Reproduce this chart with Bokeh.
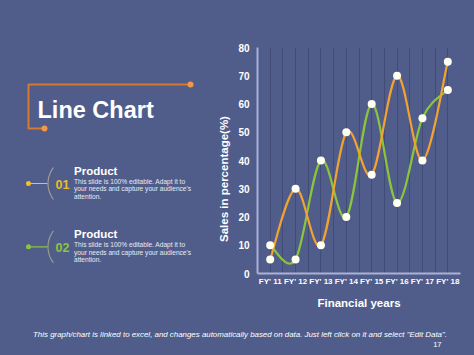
import numpy as np
from bokeh.plotting import figure
from bokeh.layouts import column, row
from bokeh.models import Range1d, FixedTicker, ColumnDataSource
from bokeh.core.properties import value
from bokeh.embed import file_html
from bokeh.resources import INLINE

# ---------------- data ----------------
years = ["FY' 11", "FY' 12", "FY' 13", "FY' 14", "FY' 15", "FY' 16", "FY' 17", "FY' 18"]
series_orange = [5, 30, 10, 50, 35, 70, 40, 75]
series_green = [10, 5, 40, 20, 60, 25, 55, 65]
y_ticks = [0, 10, 20, 30, 40, 50, 60, 70, 80]

# ---------------- styling ----------------
W, H = 474, 355
TOP_H = 318          # height of upper row
LW = 232             # width of left decorative panel
FL, FR, FT, FB = 257, 460, 47, 273   # chart frame edges in page px
BG = "#505D8B"
ORANGE = "#F2A232"
GREEN = "#8CC43C"
AXIS = "#A9B1D5"
GRID = "#404B78"
WHITE = "#FFFFFF"
FONT = "Liberation Sans"


def blank(w, h, xr, yr, top=0, bottom=0):
    f = figure(width=w, height=h, x_range=xr, y_range=yr, output_backend="svg", toolbar_location=None,
               x_axis_location=None, y_axis_location=None, min_border=0,
               min_border_top=top, min_border_bottom=bottom)
    f.background_fill_color = BG
    f.border_fill_color = BG
    f.outline_line_color = None
    f.grid.grid_line_color = None
    return f


# ---------------- chart ----------------
p = figure(width=W - LW, height=TOP_H, x_range=Range1d(0, len(years)),
           y_range=Range1d(y_ticks[0], y_ticks[-1]),
           output_backend="svg", toolbar_location=None,
           min_border_left=FL - LW, min_border_right=W - FR, min_border_top=FT, min_border_bottom=TOP_H - FB)
p.background_fill_color = BG
p.border_fill_color = BG
p.outline_line_color = None

xs = [i + 0.5 for i in range(len(years))]

p.xaxis.ticker = FixedTicker(ticks=xs)
p.xaxis.major_label_overrides = {x: lab for x, lab in zip(xs, years)}
p.yaxis.ticker = FixedTicker(ticks=y_ticks)
for ax in (p.xaxis[0], p.yaxis[0]):
    ax.major_tick_line_color = None
    ax.minor_tick_line_color = None
    ax.major_tick_out = 0
    ax.major_tick_in = 0
    ax.axis_line_color = AXIS
    ax.axis_line_width = 2
    ax.major_label_text_color = WHITE
    ax.major_label_text_font = FONT
    ax.major_label_text_font_style = "bold"
p.xaxis.major_label_text_font_size = "8px"
p.xaxis.major_label_standoff = 3
p.yaxis.major_label_text_font_size = "10px"
p.yaxis.major_label_standoff = 8
p.xaxis.axis_label = "Financial years"
p.xaxis.axis_label_text_font = FONT
p.xaxis.axis_label_text_font_size = "11.5px"
p.xaxis.axis_label_text_font_style = "bold"
p.xaxis.axis_label_text_color = WHITE
p.xaxis.axis_label_standoff = 8

p.xgrid.ticker = FixedTicker(ticks=[i * 0.5 for i in range(2 * len(years) + 1)])
p.xgrid.grid_line_color = GRID
p.xgrid.grid_line_width = 1
p.ygrid.grid_line_color = None


def bezier_source(vals):
    pts = list(zip(xs, vals))
    n = len(pts)
    d = dict(x0=[], y0=[], x1=[], y1=[], cx0=[], cy0=[], cx1=[], cy1=[])
    for i in range(n - 1):
        pm = pts[i - 1] if i > 0 else pts[i]
        p0 = pts[i]
        p1 = pts[i + 1]
        p2 = pts[i + 2] if i + 2 < n else pts[i + 1]
        d["x0"].append(p0[0]); d["y0"].append(p0[1])
        d["x1"].append(p1[0]); d["y1"].append(p1[1])
        d["cx0"].append(p0[0] + (p1[0] - pm[0]) / 6); d["cy0"].append(p0[1] + (p1[1] - pm[1]) / 6)
        d["cx1"].append(p1[0] - (p2[0] - p0[0]) / 6); d["cy1"].append(p1[1] - (p2[1] - p0[1]) / 6)
    return ColumnDataSource(d)


for vals, col in ((series_green, GREEN), (series_orange, ORANGE)):
    p.bezier(x0="x0", y0="y0", x1="x1", y1="y1", cx0="cx0", cy0="cy0", cx1="cx1", cy1="cy1",
             source=bezier_source(vals), line_color=col, line_width=2.2)
for vals in (series_green, series_orange):
    p.scatter(xs, vals, size=8, fill_color="#FFFFF2", line_color=None)

# ---------------- left decorative panel (page px coordinates, frame rows FT..FB) ----------------
L = blank(LW, TOP_H, Range1d(0, LW), Range1d(FB, FT), top=FT, bottom=TOP_H - FB)


def text(f, x, y, s, size, color=WHITE, style="normal", align="left", baseline="alphabetic", angle=0.0):
    # y is the wanted baseline in page px; compensate the renderer's baseline offset
    if baseline == "alphabetic":
        y = y - 0.32 * float(size.replace("px", ""))
    f.text(x=[x], y=[y], text=[s], text_font=value(FONT), text_font_size=value(size), text_color=color,
           text_font_style=style, text_align=align, text_baseline=baseline, angle=angle)


BR = "#D9792F"
L.line([190, 28, 28, 44], [84, 84, 128, 128], line_color=BR, line_width=2)
L.scatter([190, 44], [84, 128], size=6, fill_color="#F0974A", line_color=None)
text(L, 37, 117.5, "Line Chart", "23.5px", style="bold")

desc = ["This slide is 100% editable. Adapt it to",
        "your needs and capture your audience's",
        "attention."]
items = [("01", "#E9BC2C", "#EDC22B", "#CDBF8F", "#A9A18C", 0.0),
         ("02", GREEN, GREEN, GREEN, "#9AA585", 63.3)]
for num, ncol, dcol, lcol, acol, dy in items:
    cy = 183 + dy
    L.line([28, 47], [cy, cy], line_color=lcol, line_width=1.2)
    L.scatter([28], [cy], size=5, fill_color=dcol, line_color=None)
    ang = np.linspace(-0.66, 0.66, 25)
    r = 26.0
    L.line(73.5 - r * np.cos(ang), cy + r * np.sin(ang), line_color=acol, line_width=1.1)
    text(L, 55, 187.5 + dy, num, "12.5px", color=ncol, style="bold")
    text(L, 73.5, 174 + dy, "Product", "11.5px", style="bold")
    for k, line in enumerate(desc):
        text(L, 73.5, 182.7 + dy + 7.65 * k, line, "6.6px", color="#E8EBF4")

text(L, 223, 178.5, "Sales in percentage(%)", "11.5px", style="bold", align="center", baseline="middle",
     angle=np.pi / 2)

# ---------------- footer ----------------
F = blank(W, H - TOP_H, Range1d(0, W), Range1d(H, TOP_H))
text(F, 239.5, 336.7, "This graph/chart is linked to excel, and changes automatically based on data. "
     "Just left click on it and select \"Edit Data\".", "7.9px", style="italic", align="center")
text(F, 441, 346.5, "17", "7.5px", align="right")

page = column(row(L, p, spacing=0, styles={"background-color": BG}), F, spacing=0,
              styles={"background-color": BG})
open("out.html", "w").write(file_html(page, INLINE))
